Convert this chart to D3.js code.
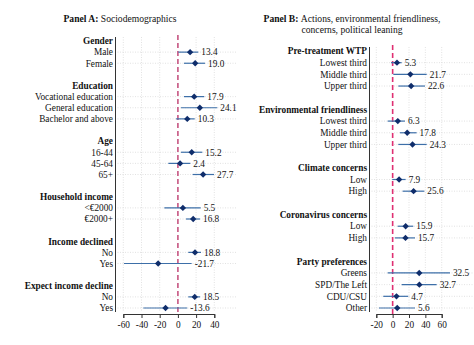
<!DOCTYPE html>
<html><head><meta charset="utf-8">
<script src="https://cdn.jsdelivr.net/npm/d3@7/dist/d3.min.js"></script>
<style>body{margin:0;background:#fff}svg{display:block}</style>
</head><body><svg id="c" width="474" height="345"></svg>
<script>
// ---- Panel A data ----
const aGroups = ["Gender","Education","Age","Household income","Income declined","Expect income decline"];
const aItems = [["Male","Female"],["Vocational education","General education","Bachelor and above"],["16-44","45-64","65+"],["<€2000","€2000+"],["No","Yes"],["No","Yes"]];
const aEst = [13.4,19.0,17.9,24.1,10.3,15.2,2.4,27.7,5.5,16.8,18.8,-21.7,18.5,-13.6];
const aLo  = [0.4,6.7,6.7,3.4,-2,3.4,-10.5,16.2,-14.9,8.9,11.4,-59.2,11.4,-38];
const aHi  = [22.4,29.8,29,43.3,18.5,26.8,13.6,39.7,25,24.3,25.4,15.1,24.3,10.3];
const aTicks = [-60,-40,-20,0,20,40];
// ---- Panel B data ----
const bGroups = ["Pre-treatment WTP","Environmental friendliness","Climate concerns","Coronavirus concerns","Party preferences"];
const bItems = [["Lowest third","Middle third","Upper third"],["Lowest third","Middle third","Upper third"],["Low","High"],["Low","High"],["Greens","SPD/The Left","CDU/CSU","Other"]];
const bEst = [5.3,21.7,22.6,6.3,17.8,24.3,7.9,25.6,15.9,15.7,32.5,32.7,4.7,5.6];
const bLo  = [-2,0.8,6.9,-6.1,8.9,6.9,-0.5,12.2,6.1,2.8,-6.1,11,-11.5,-16.8];
const bHi  = [11,41.6,39.5,15,29.3,41.6,15.9,38.7,25.2,27.3,70.1,53.8,19.1,27.3];
const bTicks = [-20,0,20,40,60];

const FONT = "'Liberation Serif', 'DejaVu Serif', serif";
const svg = d3.select("#c");
const FS = 9.3;

function buildRows(groups, items, est, lo, hi){
  const rows=[]; let k=0; let r=0;
  groups.forEach((g,gi)=>{
    rows.push({type:"h",label:g,r:r++});
    items[gi].forEach(l=>{rows.push({type:"d",label:l,r:r++,est:est[k],lo:lo[k],hi:hi[k]});k++;});
    r++;
  });
  return {rows,n:r-2};
}

function panel(cfg){
  const {rows,n} = buildRows(cfg.groups,cfg.items,cfg.est,cfg.lo,cfg.hi);
  const x = d3.scaleLinear().domain(cfg.xdom).range(cfg.xr);
  const y = d3.scaleLinear().domain([0,n]).range(cfg.yr);
  const g = svg.append("g");
  const data = rows.filter(d=>d.type==="d");
  g.selectAll(".hg").data(data).join("line")
    .attr("x1",cfg.axisX+2).attr("x2",cfg.right).attr("y1",d=>y(d.r)).attr("y2",d=>y(d.r))
    .attr("stroke","#d6d6d6").attr("stroke-width",0.7).attr("stroke-dasharray","1,1.5");
  g.selectAll(".vg").data(cfg.ticks.filter(t=>t!==0)).join("line")
    .attr("x1",d=>x(d)).attr("x2",d=>x(d)).attr("y1",cfg.yr[0]-4).attr("y2",cfg.axisY-2)
    .attr("stroke","#d6d6d6").attr("stroke-width",0.7).attr("stroke-dasharray","1,1.5");
  g.append("line").attr("x1",x(0)).attr("x2",x(0)).attr("y1",cfg.yr[0]-6).attr("y2",cfg.axisY)
    .attr("stroke",cfg.zeroColor).attr("stroke-width",1.6).attr("stroke-dasharray","5,3");
  g.append("line").attr("x1",cfg.axisX).attr("x2",cfg.axisX).attr("y1",cfg.yr[0]-4).attr("y2",cfg.axisY-2)
    .attr("stroke","#333").attr("stroke-width",1);
  g.selectAll(".lb").data(rows).join("text")
    .attr("x",cfg.axisX-2.5).attr("y",d=>y(d.r)).attr("dy","0.35em").attr("text-anchor","end")
    .style("font-family",FONT).style("font-size",FS+"px").attr("fill","#111")
    .style("font-weight",d=>d.type==="h"?"bold":"normal").text(d=>d.label);
  g.selectAll(".ci").data(data).join("line")
    .attr("x1",d=>x(d.lo)).attr("x2",d=>x(d.hi)).attr("y1",d=>y(d.r)).attr("y2",d=>y(d.r))
    .attr("stroke","#3d6fa8").attr("stroke-width",1.2);
  g.selectAll(".pt").data(data).join("path")
    .attr("d",d3.symbol(d3.symbolDiamond2,26))
    .attr("transform",d=>`translate(${x(d.est)},${y(d.r)})`).attr("fill","#0f2d6b");
  g.selectAll(".vl").data(data).join("text")
    .attr("x",d=>x(d.hi)+3).attr("y",d=>y(d.r)).attr("dy","0.35em")
    .style("font-family",FONT).style("font-size",FS+"px").attr("fill","#111")
    .text(d=>d.est.toFixed(1));
  const ax = g.append("g").attr("transform",`translate(0,${cfg.axisY})`)
    .call(d3.axisBottom(x).tickValues(cfg.ticks).tickSize(4).tickPadding(3).tickFormat(d=>String(d)));
  ax.select(".domain").attr("stroke","#333");
  ax.selectAll(".tick line").attr("stroke","#333");
  ax.selectAll("text").style("font-family",FONT).style("font-size",FS+"px").attr("fill","#111");
  const t = svg.append("text").attr("text-anchor","middle").style("font-family",FONT).style("font-size","9.6px").attr("fill","#111");
  cfg.title.forEach((line,i)=>{
    const ts = t.append("tspan").attr("x",cfg.titleX).attr("y",cfg.titleY+i*10.5);
    if(line[0]) ts.append("tspan").style("font-weight","bold").text(line[0]);
    ts.append("tspan").text(line[1]);
  });
}

panel({groups:aGroups,items:aItems,est:aEst,lo:aLo,hi:aHi,ticks:aTicks,
  xdom:[-60,40],xr:[123.3,214.3],yr:[41,308],axisX:115.5,axisY:314,right:237,
  zeroColor:"#c65582",title:[["Panel A: ","Sociodemographics"]],titleX:120,titleY:21.5});
panel({groups:bGroups,items:bItems,est:bEst,lo:bLo,hi:bHi,ticks:bTicks,
  xdom:[-20,60],xr:[376.3,441.7],yr:[51,308],axisX:369.5,axisY:314,right:474,
  zeroColor:"#df2f72",title:[["Panel B: ","Actions, environmental friendliness,"],["","concerns, political leaning"]],titleX:352,titleY:22});
</script></body></html>
